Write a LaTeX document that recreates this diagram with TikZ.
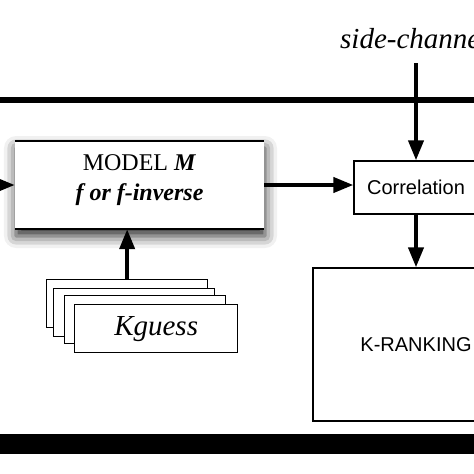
\documentclass[tikz,border=0pt]{standalone}
\usepackage{fontspec}
\setmainfont{Liberation Serif}
\setsansfont{Liberation Sans}
\usetikzlibrary{arrows.meta,positioning,calc,shadows.blur}

\begin{document}
\begin{tikzpicture}[x=1pt,y=-1pt,
  flow/.style={line width=4pt,-{Triangle[length=20pt,width=15pt]}},
  bar/.style={line width=#1},
  card/.style={draw,fill=white,line width=1.3pt,anchor=north west,
    minimum width=163pt,minimum height=48pt,inner sep=0pt},
  sbox/.style={draw,fill=white,line width=1.3pt,font=\sffamily}]
  \useasboundingbox (0,0) rectangle (474,474);
  \coordinate (tl) at (0,100);
  \coordinate (tr) at (474,100);
  \coordinate (bl) at (0,444);
  \coordinate (br) at (474,444);
  \draw[bar=6pt] (tl)--(tr);
  \draw[bar=20pt] (bl)--(br);
  \node[font=\itshape\fontsize{29}{34}\selectfont,anchor=base west,inner sep=0pt]
    (sc) at (340,48) {side-channel};
  \coordinate (sctop) at (416,63);
  \node[sbox,minimum width=124pt,minimum height=53pt,
    font=\sffamily\fontsize{20}{24}\selectfont] (corr) at (416,187.5) {Correlation};
  \node[sbox,minimum width=206pt,minimum height=153pt,
    font=\sffamily\fontsize{20}{24}\selectfont] (rank) at (416,344.5) {K-RANKING};
  \node[fill=white,minimum width=249pt,minimum height=88pt,
    blur shadow={shadow xshift=1pt,shadow yshift=-7pt,shadow blur radius=12pt,shadow opacity=85}]
    (model) at (139.5,185) {};
  \node[align=center,font=\fontsize{24}{30}\selectfont]
    (mtext) at ($(model)+(0,-5)$) {MODEL \textbf{\textit{M}}\\ \textbf{\textit{f or f-inverse}}};
  \draw[line width=1.5pt] (model.north west)--(model.north east)
    (model.south west)--(model.south east);
  \foreach \i/\xx/\yy in {1/46/279,2/53/288,3/64/295}
    \node[card,minimum width=161pt] (k\i) at (\xx,\yy) {};
  \node[card,font=\itshape\fontsize{29}{34}\selectfont] (k4) at (74,304) {Kguess};
  \coordinate (in) at (0,185);
  \draw[flow] (in)--(model.west);
  \draw[flow] (model.east)--(model.east -| corr.west);
  \draw[flow] (sctop)--(corr.north);
  \draw[flow] (corr.south)--(rank.north);
  \draw[flow] (k1.north)--(k1.north |- model.south);
\end{tikzpicture}
\end{document}
